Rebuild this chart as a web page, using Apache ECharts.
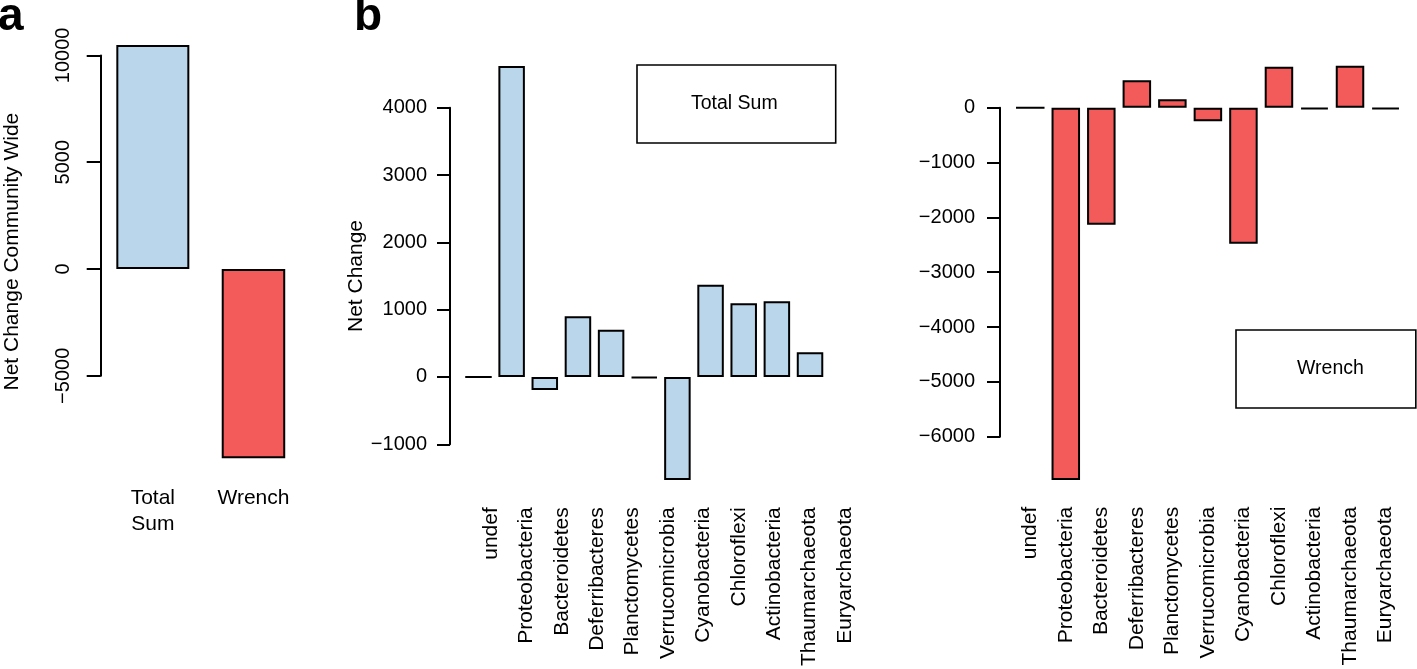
<!DOCTYPE html>
<html>
<head>
<meta charset="utf-8">
<script src="https://cdn.jsdelivr.net/npm/echarts@6/dist/echarts.min.js"></script>
<style>
html, body { margin: 0; padding: 0; background: #fff; }
#chart { width: 1417px; height: 669px; }
</style>
</head>
<body>
<div id="chart"></div>
<script>
// ---- data ----
const aCategories = ['Total Sum', 'Wrench'];
const aValues = [10487, -8862];

const phyla = ['undef', 'Proteobacteria', 'Bacteroidetes', 'Deferribacteres', 'Planctomycetes',
  'Verrucomicrobia', 'Cyanobacteria', 'Chloroflexi', 'Actinobacteria', 'Thaumarchaeota', 'Euryarchaeota'];
const totalSumValues = [0, 4620, -193, 901, 703, -15, -1530, 1371, 1094, 1124, 366];
const wrenchValues = [0, -6791, -2134, 499, 152, -249, -2480, 748, -30, 766, -30];

const aAxisTicks = { min: -5000, max: 10000, interval: 5000 };
const bLeftAxisTicks = { min: -1000, max: 4000, interval: 1000 };
const bRightAxisTicks = { min: -6000, max: 0, interval: 1000 };

// ---- styles ----
const FONT = "'Liberation Sans', Arial, Helvetica, sans-serif";
const BLUE = '#bad6ea';
const RED = '#f35b5b';
const BLACK = '#000';

const tickFormat = v => (v < 0 ? '\u2212' + Math.abs(v) : String(v));

function valueAxis(grid, ticks, extra) {
  return Object.assign({
    type: 'value', gridIndex: grid,
    min: ticks.min, max: ticks.max, interval: ticks.interval,
    splitLine: { show: false },
    axisLine: { show: true, lineStyle: { color: BLACK, width: 2 } },
    axisTick: { show: true, length: 13, lineStyle: { color: BLACK, width: 2 } },
    axisLabel: { color: BLACK, fontFamily: FONT, fontSize: 20, formatter: tickFormat }
  }, extra);
}
function catAxis(grid, data, extra) {
  return Object.assign({
    type: 'category', gridIndex: grid, data: data,
    axisLine: { show: false, onZero: false },
    axisTick: { show: false },
    splitLine: { show: false },
    axisLabel: { show: false }
  }, extra);
}
function barStyle(color) {
  return { color: color, borderColor: BLACK, borderWidth: 2 };
}

const chart = echarts.init(document.getElementById('chart'), null, { renderer: 'canvas' });

const option = {
  animation: false,
  backgroundColor: '#fff',
  title: [
    { text: 'a', left: -2, top: -6, padding: 0,
      textStyle: { fontFamily: FONT, fontSize: 46, fontWeight: 'bold', color: BLACK } },
    { text: 'b', left: 354, top: -6, padding: 0,
      textStyle: { fontFamily: FONT, fontSize: 46, fontWeight: 'bold', color: BLACK } }
  ],
  legend: [
    { data: ['Total Sum'], left: 637, top: 65, orient: 'horizontal',
      selectedMode: false, itemWidth: 0, itemHeight: 20, itemGap: 0,
      itemStyle: { opacity: 0 },
      padding: [28, 58, 28, 48], borderColor: BLACK, borderWidth: 1.6,
      textStyle: { fontFamily: FONT, fontSize: 19.5, color: BLACK, lineHeight: 20 } },
    { data: ['Wrench'], left: 1236, top: 330, orient: 'horizontal',
      selectedMode: false, itemWidth: 0, itemHeight: 20, itemGap: 0,
      itemStyle: { opacity: 0 },
      padding: [28, 52, 28, 55], borderColor: BLACK, borderWidth: 1.6,
      textStyle: { fontFamily: FONT, fontSize: 19.5, color: BLACK, lineHeight: 20 } }
  ],
  grid: [
    { left: 102.5, width: 201.3, top: 55.4, height: 320.4 },   // a
    { left: 461.9, width: 364.7, top: 107.7, height: 336.6 },  // b left bars
    { left: 473.3, width: 389.4, top: 107.7, height: 336.6 },  // b left labels
    { left: 1012.5, width: 390.8, top: 107.7, height: 329 }    // b right
  ],
  xAxis: [
    catAxis(0, aCategories, {
      axisLabel: { show: true, color: BLACK, fontFamily: FONT, fontSize: 21, lineHeight: 26.5,
        margin: 109, formatter: v => v.replace(' ', '\n') }
    }),
    catAxis(0, aCategories, { show: false }),
    catAxis(1, phyla),
    catAxis(2, phyla, {
      axisLabel: { show: true, rotate: 90, interval: 0, margin: 63,
        color: BLACK, fontFamily: FONT, fontSize: 21 }
    }),
    catAxis(3, phyla, {
      axisLabel: { show: true, rotate: 90, interval: 0, margin: 70,
        color: BLACK, fontFamily: FONT, fontSize: 21 }
    })
  ],
  yAxis: [
    valueAxis(0, aAxisTicks, {
      offset: 1.8,
      axisTick: { show: true, length: 14, lineStyle: { color: BLACK, width: 2 } },
      axisLabel: { color: BLACK, fontFamily: FONT, fontSize: 20, rotate: 90, margin: 27,
        formatter: tickFormat },
      name: 'Net Change Community Wide', nameLocation: 'middle', nameGap: 78,
      nameTextStyle: { color: BLACK, fontFamily: FONT, fontSize: 21, padding: [0, 72, 0, 0] }
    }),
    valueAxis(1, bLeftAxisTicks, {
      offset: 11.9,
      axisLabel: { color: BLACK, fontFamily: FONT, fontSize: 20, margin: 23, formatter: tickFormat },
      name: 'Net Change', nameLocation: 'middle', nameGap: 72,
      nameTextStyle: { color: BLACK, fontFamily: FONT, fontSize: 21 }
    }),
    { type: 'value', gridIndex: 2, show: false },
    valueAxis(3, bRightAxisTicks, {
      offset: 12.5,
      axisLabel: { color: BLACK, fontFamily: FONT, fontSize: 20, margin: 25, formatter: tickFormat }
    })
  ],
  series: [
    { type: 'bar', xAxisIndex: 0, yAxisIndex: 0, clip: false, silent: true,
      barWidth: 73, itemStyle: barStyle(BLUE),
      data: aValues.map((v, i) => (i === 0 ? v : null)) },
    { type: 'bar', xAxisIndex: 1, yAxisIndex: 0, clip: false, silent: true,
      barWidth: 63.5, itemStyle: barStyle(RED),
      data: aValues.map((v, i) => (i === 1 ? v : null)) },
    { type: 'bar', name: 'Total Sum', xAxisIndex: 2, yAxisIndex: 1, clip: false, silent: true,
      barWidth: 26.5, itemStyle: barStyle(BLUE), data: totalSumValues },
    { type: 'bar', name: 'Wrench', xAxisIndex: 4, yAxisIndex: 3, clip: false, silent: true,
      barWidth: 28.5, itemStyle: barStyle(RED), data: wrenchValues }
  ]
};

chart.setOption(option);
</script>
</body>
</html>
